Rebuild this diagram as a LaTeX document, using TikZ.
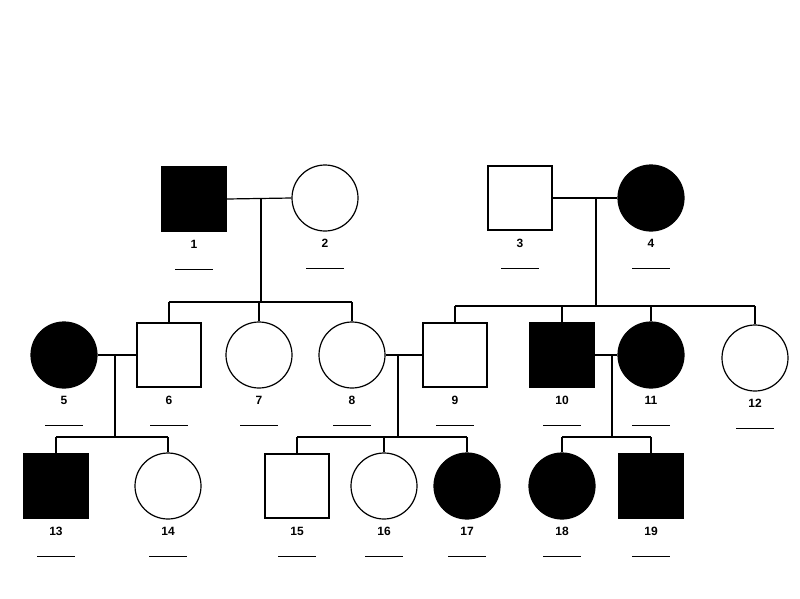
\documentclass[tikz,border=0pt]{standalone}
\usepackage{fontspec}
\setmainfont{Liberation Sans}
\begin{document}
\begin{tikzpicture}[x=1pt,y=-1pt,line width=1.2pt,
  sq/.style={draw,rectangle,minimum size=64pt,inner sep=0pt},
  ci/.style={draw,circle,minimum size=66pt,inner sep=0pt},
  aff/.style={fill=black},
  lab/.style={font=\fontsize{12}{12}\selectfont\bfseries},
  ul/.style={line width=1pt}]
\useasboundingbox (0,0) rectangle (800,598);
\newcommand{\pers}[5]{% name, style, x, y, label
  \node[#2] (#1) at (#3,#4) {};
  \node[lab] (#1l) at (#3,#4+45) {#5};
  \draw[ul] (#3-19,#4+70) -- (#3+19,#4+70);}
\pers{p1}{sq,aff}{194}{199}{1}
\pers{p2}{ci}{325}{198}{2}
\pers{p3}{sq}{520}{198}{3}
\pers{p4}{ci,aff}{651}{198}{4}
\pers{p5}{ci,aff}{64}{355}{5}
\pers{p6}{sq}{169}{355}{6}
\pers{p7}{ci}{259}{355}{7}
\pers{p8}{ci}{352}{355}{8}
\pers{p9}{sq}{455}{355}{9}
\pers{p10}{sq,aff}{562}{355}{10}
\pers{p11}{ci,aff}{651}{355}{11}
\pers{p12}{ci}{755}{358}{12}
\pers{p13}{sq,aff}{56}{486}{13}
\pers{p14}{ci}{168}{486}{14}
\pers{p15}{sq}{297}{486}{15}
\pers{p16}{ci}{384}{486}{16}
\pers{p17}{ci,aff}{467}{486}{17}
\pers{p18}{ci,aff}{562}{486}{18}
\pers{p19}{sq,aff}{651}{486}{19}
% couples
\draw (p1.east) -- (p2.west);
\draw (p3.east) -- (p4.west);
\draw (p5.east) -- (p6.west);
\draw (p8.east) -- (p9.west);
\draw (p10.east) -- (p11.west);
% sibships
\coordinate (c12) at (261,198); \coordinate (s12) at (261,302);
\draw (c12) -- (s12);
\draw (169,302) -- (352,302);
\draw (169,302) -- (p6.north); \draw (259,302) -- (p7.north); \draw (352,302) -- (p8.north);
\coordinate (c34) at (596,198); \coordinate (s34) at (596,306);
\draw (c34) -- (s34);
\draw (455,306) -- (755,306);
\draw (455,306) -- (p9.north); \draw (562,306) -- (p10.north); \draw (651,306) -- (p11.north); \draw (755,306) -- (p12.north);
\coordinate (c56) at (115,355); \draw (c56) -- (115,437);
\draw (56,437) -- (168,437);
\draw (56,437) -- (p13.north); \draw (168,437) -- (p14.north);
\coordinate (c89) at (398,355); \draw (c89) -- (398,437);
\draw (297,437) -- (467,437);
\draw (297,437) -- (p15.north); \draw (384,437) -- (p16.north); \draw (467,437) -- (p17.north);
\coordinate (c1011) at (612,355); \draw (c1011) -- (612,437);
\draw (562,437) -- (651,437);
\draw (562,437) -- (p18.north); \draw (651,437) -- (p19.north);
\end{tikzpicture}
\end{document}
